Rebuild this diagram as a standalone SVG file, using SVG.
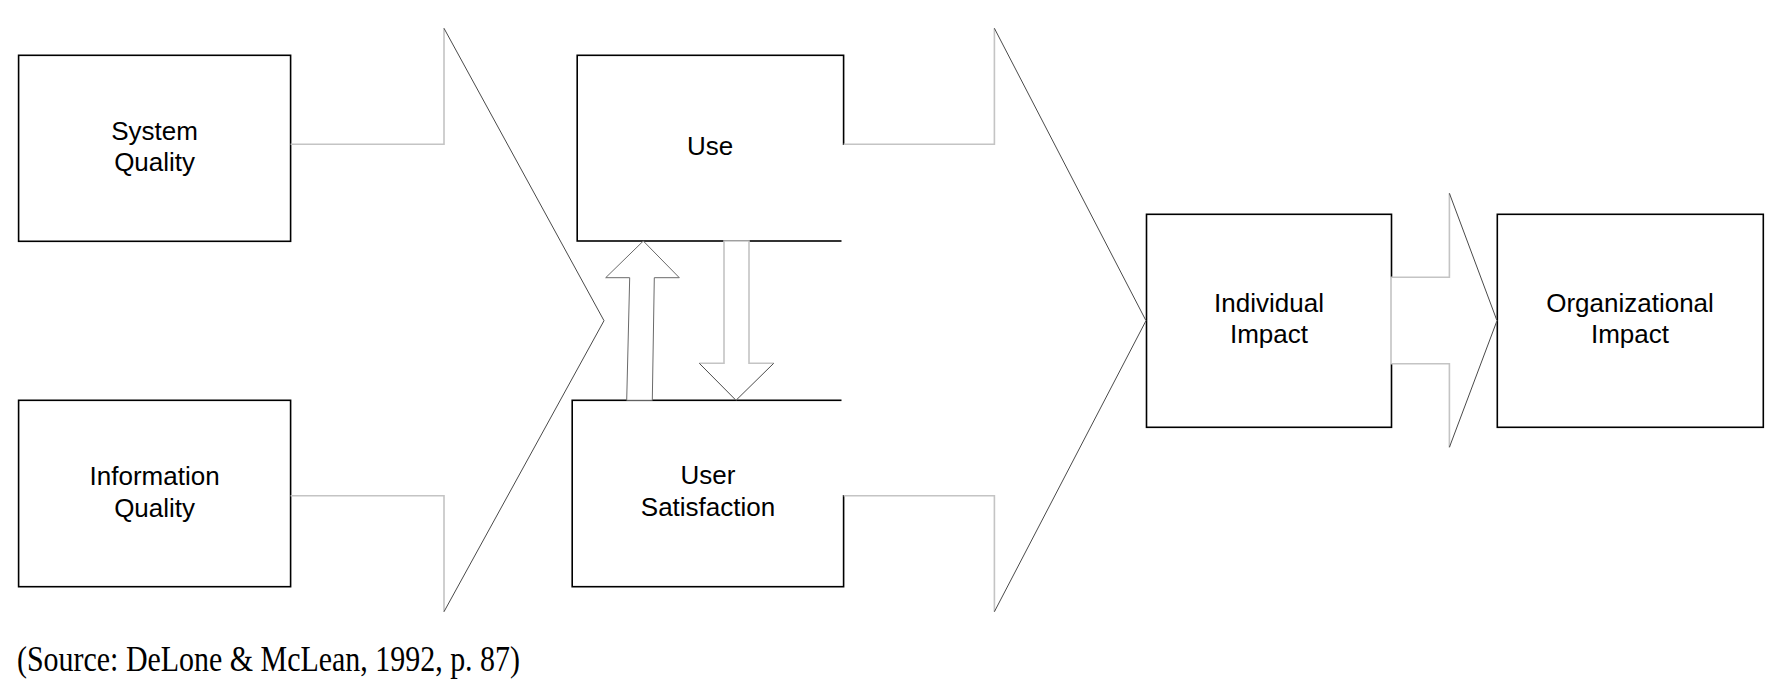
<svg xmlns="http://www.w3.org/2000/svg" width="1783" height="681" viewBox="0 0 1783 681">
<style>
.box{fill:#fff;stroke:#000;stroke-width:1.6}
.lbl{font-family:"Liberation Sans",Arial,sans-serif;font-size:26px;fill:#000;text-anchor:middle}
.fillw{fill:#fff;stroke:none}
.st{fill:none;stroke:#c4c4c4;stroke-width:1.6}
.dg{fill:none;stroke:#4a4a4a;stroke-width:1}
.src{font-family:"Liberation Serif","Times New Roman",serif;font-size:35px;fill:#000}
</style>
<rect width="1783" height="681" fill="#fff"/>
<g id="nodes">
<g id="system-quality"><rect class="box" x="18.6" y="55.3" width="272" height="186"/><text class="lbl" x="154.6" y="139.5">System</text><text class="lbl" x="154.6" y="170.5">Quality</text></g>
<g id="information-quality"><rect class="box" x="18.6" y="400.3" width="272" height="186.4"/><text class="lbl" x="154.6" y="485">Information</text><text class="lbl" x="154.6" y="516.5">Quality</text></g>
<g id="use"><rect class="box" x="577.2" y="55.3" width="266.4" height="185.7"/><text class="lbl" x="710" y="154.5">Use</text></g>
<g id="user-satisfaction"><rect class="box" x="572.2" y="400.3" width="271.4" height="186.4"/><text class="lbl" x="708" y="484">User</text><text class="lbl" x="708" y="516">Satisfaction</text></g>
<g id="individual-impact"><rect class="box" x="1146.5" y="214.3" width="245" height="213"/><text class="lbl" x="1269" y="311.7">Individual</text><text class="lbl" x="1269" y="343.3">Impact</text></g>
<g id="organizational-impact"><rect class="box" x="1497.3" y="214.3" width="266" height="213"/><text class="lbl" x="1630" y="311.7">Organizational</text><text class="lbl" x="1630" y="343.3">Impact</text></g>
</g>
<g id="connectors">
<g id="arrow-quality-to-use">
<polygon class="fillw" points="292,144.3 444,144.3 444,28.3 604,320.7 444,611.7 444,495.7 292,495.7"/>
<polyline class="st" points="290.6,144.3 444,144.3 444,28.3"/>
<polyline class="st" points="290.6,495.7 444,495.7 444,611.7"/>
<polyline class="dg" points="444,28.3 604,320.7 444,611.7"/>
</g>
<g id="arrow-use-to-individual">
<polygon class="fillw" points="841.5,145 994.4,145 994.4,28.3 1146,320.7 994.4,611.7 994.4,495 841.5,495"/>
<polyline class="st" points="843.6,144.3 994.4,144.3 994.4,28.3"/>
<polyline class="st" points="843.6,495.7 994.4,495.7 994.4,611.7"/>
<polyline class="dg" points="994.4,28.3 1146,320.7 994.4,611.7"/>
</g>
<g id="arrow-individual-to-organizational">
<polygon class="fillw" points="1390,277.3 1449.4,277.3 1449.4,193.3 1497,320.7 1449.4,447.3 1449.4,363.7 1390,363.7"/>
<polyline class="st" points="1449.4,193.3 1449.4,277.3 1391,277.3 1391,363.7 1449.4,363.7 1449.4,447.3"/>
<polyline class="dg" points="1449.4,193.3 1497,320.7 1449.4,447.3"/>
</g>
<g id="arrow-satisfaction-to-use">
<polygon fill="#fff" stroke="#6a6a6a" stroke-width="1" points="643.3,241 679.3,277.7 654.3,277.7 652.3,400.3 626.7,400.3 629.7,277.7 605.7,277.7"/>
</g>
<g id="arrow-use-to-satisfaction">
<polygon class="fillw" points="724,241 749,241 749,363.3 773.7,363.3 736,400.3 699.3,363.3 724,363.3"/>
<polyline class="st" points="699.3,363.3 724,363.3 724,241 749,241 749,363.3 773.7,363.3"/>
<polyline class="dg" points="699.3,363.3 736,400.3 773.7,363.3"/>
</g>
</g>
<text class="src" x="17" y="671" textLength="503" lengthAdjust="spacingAndGlyphs">(Source: DeLone &amp; McLean, 1992, p. 87)</text>
</svg>
